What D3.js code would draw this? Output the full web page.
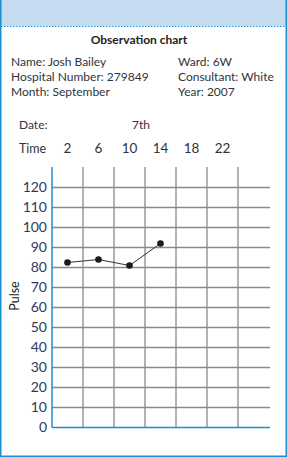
<!DOCTYPE html>
<html><head><meta charset="utf-8">
<script src="https://cdn.jsdelivr.net/npm/d3@7"></script>
<style>
html,body{margin:0;padding:0;background:#fff;}
svg{display:block;}
text{font-family:Lato,"Open Sans",sans-serif;}
</style></head>
<body>
<script>
const times = [2, 6, 10, 14, 18, 22];
const pulseTimes = [2, 6, 10, 14];
const pulseValues = [82.5, 84, 81, 92];
const yTicks = [0, 10, 20, 30, 40, 50, 60, 70, 80, 90, 100, 110, 120];
const infoLeft = ["Name: Josh Bailey", "Hospital Number: 279849", "Month: September"];
const infoRight = ["Ward: 6W", "Consultant: White", "Year: 2007"];
const dateLabel = "7th";

const W = 287, H = 457;
const svg = d3.select("body").append("svg").attr("width", W).attr("height", H);
const blue = "#1b8fd2", textCol = "#2f3440";

// top band
svg.append("rect").attr("x",0).attr("y",0).attr("width",W).attr("height",26).attr("fill","#c5dcf0");
svg.append("line").attr("x1",1).attr("x2",W-1).attr("y1",26.5).attr("y2",26.5)
  .attr("stroke",blue).attr("stroke-width",1.2).attr("stroke-dasharray","1.5,1.5");
// frame
svg.append("rect").attr("x",0.75).attr("y",-2).attr("width",W-1.5).attr("height",H+1.25)
  .attr("fill","none").attr("stroke",blue).attr("stroke-width",1.5);

svg.append("text").attr("x",139).attr("y",44).attr("text-anchor","middle")
  .attr("font-size",12).attr("font-weight","bold").attr("fill","#222").text("Observation chart");

infoLeft.forEach((t,i)=>svg.append("text").attr("x",11).attr("y",66+i*15).attr("font-size",12).attr("fill",textCol).text(t));
infoRight.forEach((t,i)=>svg.append("text").attr("x",178).attr("y",66+i*15).attr("font-size",12).attr("fill",textCol).text(t));

svg.append("text").attr("x",19).attr("y",129).attr("font-size",12).attr("fill",textCol).text("Date:");
svg.append("text").attr("x",141).attr("y",129).attr("text-anchor","middle").attr("font-size",12).attr("fill",textCol).text(dateLabel);
svg.append("text").attr("x",19).attr("y",153).attr("font-size",12.5).attr("fill",textCol).text("Time");

const x0 = 52, colW = 31, nCols = 7, xEnd = 270;
const x = d3.scaleLinear().domain([0, 28]).range([x0, x0 + colW*nCols]);
const y = d3.scaleLinear().domain([0, 120]).range([427.5, 187.5]);
const gridTop = 167;

// time labels
svg.append("g").selectAll("text").data(times).join("text")
  .attr("x", d=>x(d)).attr("y",153).attr("text-anchor","middle")
  .attr("font-size",13.5).attr("fill",textCol).text(d=>d);

// vertical grid lines
const vLines = d3.range(1, nCols).map(i=>i*4);
svg.append("g").selectAll("line").data(vLines).join("line")
  .attr("x1",d=>x(d)).attr("x2",d=>x(d)).attr("y1",gridTop).attr("y2",y(0))
  .attr("stroke","#8a8a8a").attr("stroke-width",1.3);
// horizontal grid lines
svg.append("g").selectAll("line").data(yTicks.filter(d=>d>0)).join("line")
  .attr("x1",x0).attr("x2",xEnd).attr("y1",d=>y(d)).attr("y2",d=>y(d))
  .attr("stroke","#8a8a8a").attr("stroke-width",1.3);

// y axis
const yAxis = d3.axisLeft(y).tickValues(yTicks).tickSize(0).tickPadding(5);
const gy = svg.append("g").attr("transform",`translate(${x0},0)`).call(yAxis);
gy.select(".domain").remove();
gy.selectAll("text").attr("font-size",14).attr("fill","#2f3a55").attr("font-family","Lato, sans-serif");
// axis lines
svg.append("line").attr("x1",x0).attr("x2",x0).attr("y1",gridTop).attr("y2",y(0)).attr("stroke",blue).attr("stroke-width",1.5);
svg.append("line").attr("x1",x0).attr("x2",xEnd).attr("y1",y(0)).attr("y2",y(0)).attr("stroke",blue).attr("stroke-width",1.5);

svg.append("text").attr("transform",`translate(19,296) rotate(-90)`).attr("text-anchor","middle")
  .attr("font-size",12.5).attr("fill","#222").text("Pulse");

const pts = pulseTimes.map((t,i)=>[t, pulseValues[i]]);
svg.append("path").datum(pts).attr("fill","none").attr("stroke","#333").attr("stroke-width",1)
  .attr("d", d3.line().x(d=>x(d[0])).y(d=>y(d[1])));
svg.append("g").selectAll("circle").data(pts).join("circle")
  .attr("cx",d=>x(d[0])).attr("cy",d=>y(d[1])).attr("r",3.3).attr("fill","#1a1a1a");
</script>
</body></html>
